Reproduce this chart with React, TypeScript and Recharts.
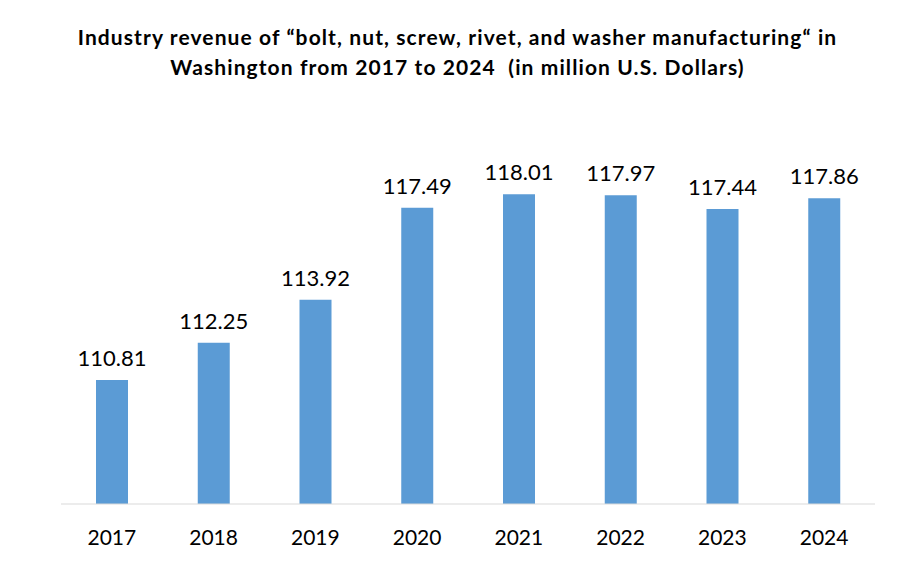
import { Bar, BarChart, LabelList, XAxis, YAxis } from "recharts";

const years = ["2017", "2018", "2019", "2020", "2021", "2022", "2023", "2024"];
const revenue = [110.81, 112.25, 113.92, 117.49, 118.01, 117.97, 117.44, 117.86];

const data = years.map((year, i) => ({ year, revenue: revenue[i] }));

const FONT = "Lato, 'Open Sans', sans-serif";

export default function App() {
  return (
    <div
      style={{
        position: "absolute",
        left: 0,
        top: 0,
        width: 915,
        height: 586,
        background: "#fff",
        fontFamily: FONT,
      }}
    >
      <div
        style={{
          position: "absolute",
          top: 22,
          left: 0,
          width: 915,
          textAlign: "center",
          fontWeight: 700,
          fontSize: 21,
          letterSpacing: 1.1,
          lineHeight: "30px",
          color: "#000",
        }}
      >
        Industry revenue of “bolt, nut, screw, rivet, and washer manufacturing“ in
        <br />
        Washington from 2017 to 2024&nbsp; (in million U.S. Dollars)
      </div>
      <BarChart
        width={915}
        height={586}
        data={data}
        margin={{ top: 143, right: 40, bottom: 32, left: 61 }}
        style={{ position: "absolute", left: 0, top: 0 }}
      >
        <XAxis
          dataKey="year"
          height={50}
          tickLine={false}
          axisLine={{ stroke: "#D9D9D9" }}
          tick={{ fill: "#000", fontSize: 21, fontFamily: FONT }}
          tickMargin={20}
        />
        <YAxis hide domain={[106, 120]} allowDataOverflow />
        <Bar dataKey="revenue" fill="#5B9BD5" barSize={32} isAnimationActive={false}>
          <LabelList
            dataKey="revenue"
            position="top"
            offset={14}
            formatter={(v: number) => v.toFixed(2)}
            style={{ fill: "#000", fontSize: 22, fontFamily: FONT }}
          />
        </Bar>
      </BarChart>
    </div>
  );
}
